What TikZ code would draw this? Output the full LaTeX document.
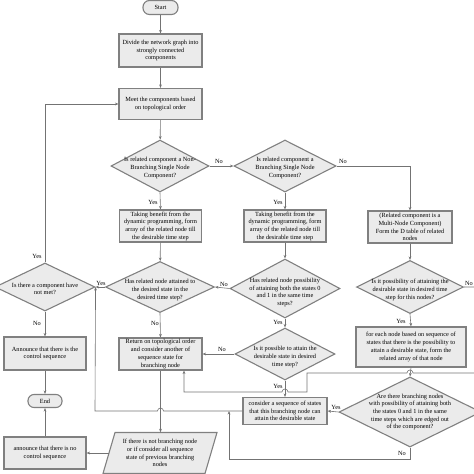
\documentclass[tikz,border=0pt]{standalone}
\usepackage{fontspec}
\setmainfont{Liberation Serif}
\usetikzlibrary{shapes.geometric,arrows.meta}
\begin{document}
\begin{tikzpicture}[x=1pt,y=-1pt,
  txt/.style={font=\fontsize{6.3}{7.7}\selectfont, align=center, inner sep=0pt},
  shp/.style={draw=black!50, fill=black!8, line width=1.1pt},
  proc/.style={shp, rectangle, txt, inner sep=1pt},
  term/.style={shp, rectangle, txt, rounded corners=6.5pt},
  dec/.style={shp, diamond, inner sep=0pt},
  conn/.style={draw=black!55, line width=0.6pt, -{Stealth[length=3.5pt,width=2.8pt]}},
  lab/.style={txt}]
\useasboundingbox (0,0) rectangle (474,474);
\clip (0,0) rectangle (474,474);

% terminals and process boxes
\node[term, minimum width=35pt, minimum height=14pt] (start) at (160.5,7.5) {Start};
\node[proc, minimum width=83pt, minimum height=33pt] (b1) at (160.5,50.5) {Divide the network graph into\\strongly connected\\components};
\node[proc, minimum width=83pt, minimum height=31pt] (b2) at (160.5,104) {Meet the components based\\on topological order};

\node[dec, minimum width=98pt, minimum height=52pt] (d1) at (160,166) {};
\node[txt, yshift=-2pt] (d1t) at (d1) {Is related component a Non-\\Branching Single Node\\Component?};
\node[dec, minimum width=102pt, minimum height=52pt] (d2) at (285,166) {};
\node[txt, yshift=-2pt] (d2t) at (d2) {Is related component a\\Branching Single Node\\Component?};

\node[proc, minimum width=82pt, minimum height=32pt] (b3) at (160.5,226) {Taking benefit from the\\dynamic programming, form\\array of the related node till\\the desirable time step};
\node[proc, minimum width=82pt, minimum height=32pt] (b4) at (285,226) {Taking benefit from the\\dynamic programming, form\\array of the related node till\\the desirable time step};
\node[proc, minimum width=84pt, minimum height=32pt] (bmn) at (410,227) {(Related component is a\\Multi-Node Component)\\Form the D table of related\\nodes};

\node[dec, minimum width=100pt, minimum height=48pt] (d0) at (45,287) {};
\node[txt, yshift=-2pt] (d0t) at (d0) {Is there a component have\\not met?};
\node[dec, minimum width=109pt, minimum height=51pt] (d3) at (160,287) {};
\node[txt, yshift=-3pt] (d3t) at (d3) {Has related node attained to\\the desired state in the\\desired time step?};
\node[dec, minimum width=110pt, minimum height=59pt] (d4) at (285,288.5) {};
\node[txt, yshift=-4pt] (d4t) at (d4) {Has related node possibility\\of attaining both the states 0\\and 1 in the same time\\steps?};
\node[dec, minimum width=107pt, minimum height=53pt] (d7) at (410,287) {};
\node[txt, yshift=-3pt] (d7t) at (d7) {Is it possibility of attaining the\\desirable state in desired time\\step for this nodes?};

\node[proc, minimum width=82pt, minimum height=33pt] (ann1) at (45,353.5) {Announce that there is the\\control sequence};
\node[proc, minimum width=83pt, minimum height=32pt] (b5) at (160.5,354) {Return on topological order\\and consider another of\\sequence state for\\branching node};
\node[dec, minimum width=100pt, minimum height=52pt] (d5) at (285,354) {};
\node[txt, yshift=-3pt] (d5t) at (d5) {Is it possible to attain the\\desirable state in desired\\time step?};
\node[proc, minimum width=110pt, minimum height=40pt] (b7) at (411,347) {for each node based on sequence of\\states that there is the possibility to\\attain a desirable state, form the\\related array of that node};

\node[term, minimum width=34pt, minimum height=13pt, rounded corners=6pt] (end) at (45,401) {End};
\node[proc, minimum width=84pt, minimum height=27pt] (b6) at (285,411) {consider a sequence of states\\that this branching node can\\attain the desirable state};
\node[dec, minimum width=142pt, minimum height=70pt] (d6) at (410,412) {};
\node[txt] (d6t) at (d6) {Are there branching nodes\\with possibility of attaining both\\the states 0 and 1 in the same\\time steps which are edged out\\of the component?};

\node[proc, minimum width=82pt, minimum height=32pt] (ann2) at (45,453) {announce that there is no\\control sequence};
% parallelogram
\draw[shp] (103,473.5) -- (115,432.5) -- (217,432.5) -- (205,473.5) -- cycle;
\node[txt, minimum width=102pt, minimum height=41pt] (pg) at (160,453) {If there is not branching node\\or if consider all sequence\\state of previous branching\\nodes};

% helper coordinates
\coordinate (j1) at (229,411);
\coordinate (j2) at (184,392);
\coordinate (r1) at (484,287);
\coordinate (r2) at (484,373);

% connectors
\draw[conn] (start) -- (b1);
\draw[conn] (b1) -- (b2);
\draw[conn] (b2) -- (d1);
\draw[conn] (d1.east) -- (d2.west);
\draw[conn] (d1.south) -- (b3.north);
\draw[conn] (d2.south) -- (b4.north);
\draw[conn] (d2.east) -| (bmn.north);
\draw[conn] (b3) -- (d3);
\draw[conn] (b4) -- (d4);
\draw[conn] (bmn) -- (d7);
\draw[conn] (d3.west) -- (d0.east);
\draw[conn] (d4.west) -- (d3.east);
\draw[conn] (d0.north) |- (b2.west);
\draw[conn] (d0.south) -- (ann1.north);
\draw[conn] (ann1) -- (end);
\draw[conn] (ann2) -- (end);
\draw[conn] (d3.south) -- (b5.north);
\draw[conn] (d4.south) -- (d5.north);
\draw[conn] (d5.west) -- (b5.east);
\draw[conn] (d5.south) -- (b6.north);
\draw[conn] (d7.south) -- (b7.north);
\draw[conn] (b7.south) -- (d6.north);
\draw[conn] (d6.west) -- (b6.east);
\draw[conn] (b5.south) -- (b5.south |- pg.north);
\draw[conn] (pg.west) -- (ann2.east);
\draw[conn] (b6.west) -- (163.5,411) arc[start angle=0,end angle=180,radius=3pt] -- (95,411) -- (d0.east);
\draw[conn] (d6.south) -- (410,459) -| (j1);
\draw[conn] (d7.east) -- (r1) -- (r2) -- (413,373) arc[start angle=0,end angle=180,radius=3pt] -- (307,373) -- (307,392) -- (288,392) arc[start angle=0,end angle=180,radius=3pt] -- (j2) -- (j2 |- b5.south);

% labels
\node[lab] at (219,161) {No};
\node[lab] at (343,161) {No};
\node[lab] at (153,202) {Yes};
\node[lab] at (278,202) {Yes};
\node[lab] at (101,283) {Yes};
\node[lab] at (224,284) {No};
\node[lab] at (37,256) {Yes};
\node[lab] at (37,323) {No};
\node[lab] at (155,323) {No};
\node[lab] at (278,322) {Yes};
\node[lab] at (401,321) {Yes};
\node[lab] at (469,283) {No};
\node[lab] at (222,349) {No};
\node[lab] at (278,386) {Yes};
\node[lab] at (336,407) {Yes};
\node[lab] at (402,453) {No};
\end{tikzpicture}
\end{document}
